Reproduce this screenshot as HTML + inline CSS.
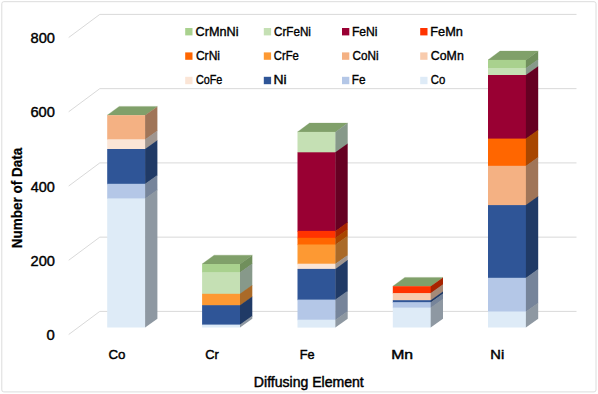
<!DOCTYPE html>
<html><head><meta charset="utf-8"><style>
html,body{margin:0;padding:0;background:#fff;}
svg{display:block;}
text{font-family:"Liberation Sans",sans-serif;fill:#000;}
.ay{font-size:13.8px;stroke:#000;stroke-width:0.4px;}
.ax{font-size:13.3px;stroke:#000;stroke-width:0.45px;}
.xt{font-size:14px;stroke:#000;stroke-width:0.45px;}
.yt{font-size:14.2px;font-weight:bold;stroke:#000;stroke-width:0.25px;}
.lg{font-size:11.9px;stroke:#000;stroke-width:0.35px;}
</style></head><body>
<svg width="598" height="394" viewBox="0 0 598 394">
<rect x="1.8" y="1.7" width="594.2" height="390.2" rx="2" fill="#fff" stroke="#DCDCDC" stroke-width="1"/>
<polyline points="68.7,334.50 99.8,311.40 576.5,311.40" fill="none" stroke="#D9D9D9" stroke-width="1"/>
<polyline points="68.7,260.25 99.8,237.15 576.5,237.15" fill="none" stroke="#D9D9D9" stroke-width="1"/>
<polyline points="68.7,186.00 99.8,162.90 576.5,162.90" fill="none" stroke="#D9D9D9" stroke-width="1"/>
<polyline points="68.7,111.75 99.8,88.65 576.5,88.65" fill="none" stroke="#D9D9D9" stroke-width="1"/>
<polyline points="68.7,37.50 99.8,14.40 576.5,14.40" fill="none" stroke="#D9D9D9" stroke-width="1"/>
<polygon points="107.2,115.2 119.20,106.40 157.40,106.40 145.40,115.2" fill="#80A06A" stroke="#80A06A" stroke-width="0.3"/>
<rect x="107.2" y="115.2" width="38.2" height="24.70" fill="#F4B183"/>
<polygon points="145.10,115.2 157.40,106.40 157.40,131.10 145.10,139.90" fill="#A07558"/>
<rect x="107.2" y="139.3" width="38.2" height="10.30" fill="#FBE5D6"/>
<polygon points="145.10,139.3 157.40,130.50 157.40,140.80 145.10,149.60" fill="#A09690"/>
<rect x="107.2" y="149.0" width="38.2" height="35.40" fill="#2F5597"/>
<polygon points="145.10,149.0 157.40,140.20 157.40,175.60 145.10,184.40" fill="#203A66"/>
<rect x="107.2" y="183.8" width="38.2" height="15.20" fill="#B4C7E7"/>
<polygon points="145.10,183.8 157.40,175.00 157.40,190.20 145.10,199.00" fill="#76849A"/>
<rect x="107.2" y="198.4" width="38.2" height="129.10" fill="#DEEBF7"/>
<polygon points="145.10,198.4 157.40,189.60 157.40,318.70 145.10,327.50" fill="#8E98A2"/>
<polygon points="202.1,264.0 214.10,255.20 252.30,255.20 240.30,264.0" fill="#80A06A" stroke="#80A06A" stroke-width="0.3"/>
<rect x="202.1" y="264.0" width="38.2" height="8.80" fill="#A9D18E"/>
<polygon points="240.00,264.0 252.30,255.20 252.30,264.00 240.00,272.80" fill="#708F5C"/>
<rect x="202.1" y="272.2" width="38.2" height="22.20" fill="#C5E0B4"/>
<polygon points="240.00,272.2 252.30,263.40 252.30,285.60 240.00,294.40" fill="#87998A"/>
<rect x="202.1" y="293.8" width="38.2" height="12.00" fill="#FD9933"/>
<polygon points="240.00,293.8 252.30,285.00 252.30,297.00 240.00,305.80" fill="#AA6A28"/>
<rect x="202.1" y="305.2" width="38.2" height="20.00" fill="#2F5597"/>
<polygon points="240.00,305.2 252.30,296.40 252.30,316.40 240.00,325.20" fill="#203A66"/>
<rect x="202.1" y="324.6" width="38.2" height="2.90" fill="#DEEBF7"/>
<polygon points="240.00,324.6 252.30,315.80 252.30,318.70 240.00,327.50" fill="#8E98A2"/>
<polygon points="297.5,131.9 309.50,123.10 347.70,123.10 335.70,131.9" fill="#80A06A" stroke="#80A06A" stroke-width="0.3"/>
<rect x="297.5" y="131.9" width="38.2" height="21.00" fill="#C5E0B4"/>
<polygon points="335.40,131.9 347.70,123.10 347.70,144.10 335.40,152.90" fill="#87998A"/>
<rect x="297.5" y="152.3" width="38.2" height="79.30" fill="#990033"/>
<polygon points="335.40,152.3 347.70,143.50 347.70,222.80 335.40,231.60" fill="#660022"/>
<rect x="297.5" y="230.9" width="38.2" height="7.50" fill="#FF3300"/>
<polygon points="335.40,230.9 347.70,222.10 347.70,229.60 335.40,238.40" fill="#A82400"/>
<rect x="297.5" y="237.8" width="38.2" height="7.30" fill="#FF6600"/>
<polygon points="335.40,237.8 347.70,229.00 347.70,236.30 335.40,245.10" fill="#A84600"/>
<rect x="297.5" y="244.5" width="38.2" height="19.80" fill="#FD9933"/>
<polygon points="335.40,244.5 347.70,235.70 347.70,255.50 335.40,264.30" fill="#AA6A28"/>
<rect x="297.5" y="263.7" width="38.2" height="5.80" fill="#FBE5D6"/>
<polygon points="335.40,263.7 347.70,254.90 347.70,260.70 335.40,269.50" fill="#A09690"/>
<rect x="297.5" y="268.9" width="38.2" height="31.30" fill="#2F5597"/>
<polygon points="335.40,268.9 347.70,260.10 347.70,291.40 335.40,300.20" fill="#203A66"/>
<rect x="297.5" y="299.6" width="38.2" height="20.70" fill="#B4C7E7"/>
<polygon points="335.40,299.6 347.70,290.80 347.70,311.50 335.40,320.30" fill="#76849A"/>
<rect x="297.5" y="319.7" width="38.2" height="7.90" fill="#DEEBF7"/>
<polygon points="335.40,319.7 347.70,310.90 347.70,318.80 335.40,327.60" fill="#8E98A2"/>
<polygon points="392.8,286.2 404.80,277.40 443.00,277.40 431.00,286.2" fill="#80A06A" stroke="#80A06A" stroke-width="0.3"/>
<rect x="392.8" y="286.2" width="38.2" height="7.50" fill="#FF3300"/>
<polygon points="430.70,286.2 443.00,277.40 443.00,284.90 430.70,293.70" fill="#A82400"/>
<rect x="392.8" y="293.1" width="38.2" height="7.70" fill="#F8CBAD"/>
<polygon points="430.70,293.1 443.00,284.30 443.00,292.00 430.70,300.80" fill="#A58A78"/>
<rect x="392.8" y="300.2" width="38.2" height="2.60" fill="#2F5597"/>
<polygon points="430.70,300.2 443.00,291.40 443.00,294.00 430.70,302.80" fill="#203A66"/>
<rect x="392.8" y="302.2" width="38.2" height="6.00" fill="#B4C7E7"/>
<polygon points="430.70,302.2 443.00,293.40 443.00,299.40 430.70,308.20" fill="#76849A"/>
<rect x="392.8" y="307.6" width="38.2" height="19.90" fill="#DEEBF7"/>
<polygon points="430.70,307.6 443.00,298.80 443.00,318.70 430.70,327.50" fill="#8E98A2"/>
<polygon points="488.0,59.9 500.00,51.10 538.20,51.10 526.20,59.9" fill="#80A06A" stroke="#80A06A" stroke-width="0.3"/>
<rect x="488.0" y="59.9" width="38.2" height="8.70" fill="#A9D18E"/>
<polygon points="525.90,59.9 538.20,51.10 538.20,59.80 525.90,68.60" fill="#708F5C"/>
<rect x="488.0" y="68.0" width="38.2" height="7.60" fill="#C5E0B4"/>
<polygon points="525.90,68.0 538.20,59.20 538.20,66.80 525.90,75.60" fill="#87998A"/>
<rect x="488.0" y="75.0" width="38.2" height="64.20" fill="#990033"/>
<polygon points="525.90,75.0 538.20,66.20 538.20,130.40 525.90,139.20" fill="#660022"/>
<rect x="488.0" y="138.6" width="38.2" height="27.80" fill="#FF6600"/>
<polygon points="525.90,138.6 538.20,129.80 538.20,157.60 525.90,166.40" fill="#A84600"/>
<rect x="488.0" y="165.8" width="38.2" height="39.90" fill="#F4B183"/>
<polygon points="525.90,165.8 538.20,157.00 538.20,196.90 525.90,205.70" fill="#A07558"/>
<rect x="488.0" y="205.1" width="38.2" height="73.30" fill="#2F5597"/>
<polygon points="525.90,205.1 538.20,196.30 538.20,269.60 525.90,278.40" fill="#203A66"/>
<rect x="488.0" y="277.8" width="38.2" height="34.30" fill="#B4C7E7"/>
<polygon points="525.90,277.8 538.20,269.00 538.20,303.30 525.90,312.10" fill="#76849A"/>
<rect x="488.0" y="311.5" width="38.2" height="16.00" fill="#DEEBF7"/>
<polygon points="525.90,311.5 538.20,302.70 538.20,318.70 525.90,327.50" fill="#8E98A2"/>
<text transform="translate(46.48,340.2) scale(1.0779,1)" class="ay">0</text>
<text transform="translate(30.49,265.95) scale(1.0608,1)" class="ay">200</text>
<text transform="translate(30.76,191.7) scale(1.0491,1)" class="ay">400</text>
<text transform="translate(30.43,117.45) scale(1.0634,1)" class="ay">600</text>
<text transform="translate(30.51,43.2) scale(1.0601,1)" class="ay">800</text>
<text transform="translate(108.49,359.0) scale(0.9991,1)" class="ax">Co</text>
<text transform="translate(205.21,359.0) scale(0.9716,1)" class="ax">Cr</text>
<text transform="translate(299.85,359.0) scale(0.9563,1)" class="ax">Fe</text>
<text transform="translate(391.19,359.0) scale(1.1858,1)" class="ax">Mn</text>
<text transform="translate(490.29,359.0) scale(1.1067,1)" class="ax">Ni</text>
<text transform="translate(253.86,387.0) scale(1.0057,1)" class="xt">Diffusing Element</text>
<text transform="translate(195.58,35.6) scale(1.0662,1)" class="lg">CrMnNi</text>
<text transform="translate(274.02,35.6) scale(0.9813,1)" class="lg">CrFeNi</text>
<text transform="translate(351.91,35.6) scale(1.0227,1)" class="lg">FeNi</text>
<text transform="translate(430.26,35.6) scale(1.0724,1)" class="lg">FeMn</text>
<text transform="translate(195.91,60.0) scale(1.0143,1)" class="lg">CrNi</text>
<text transform="translate(273.84,60.0) scale(0.9485,1)" class="lg">CrFe</text>
<text transform="translate(352.42,60.0) scale(0.9882,1)" class="lg">CoNi</text>
<text transform="translate(430.79,60.0) scale(1.0401,1)" class="lg">CoMn</text>
<text transform="translate(195.96,84.4) scale(0.9086,1)" class="lg">CoFe</text>
<text transform="translate(273.45,84.4) scale(1.1715,1)" class="lg">Ni</text>
<text transform="translate(351.85,84.4) scale(0.9894,1)" class="lg">Fe</text>
<text transform="translate(430.84,84.4) scale(0.9538,1)" class="lg">Co</text>
<text transform="translate(21.9,197.9) rotate(-90)" text-anchor="middle" textLength="100.5" lengthAdjust="spacingAndGlyphs" class="yt">Number of Data</text>
<rect x="185.2" y="28.0" width="7.3" height="7.4" fill="#A9D18E"/>
<rect x="263.8" y="28.0" width="7.3" height="7.4" fill="#C5E0B4"/>
<rect x="342.0" y="28.0" width="7.3" height="7.4" fill="#990033"/>
<rect x="420.2" y="28.0" width="7.3" height="7.4" fill="#FF3300"/>
<rect x="185.2" y="52.4" width="7.3" height="7.4" fill="#FF6600"/>
<rect x="263.8" y="52.4" width="7.3" height="7.4" fill="#FD9933"/>
<rect x="342.0" y="52.4" width="7.3" height="7.4" fill="#F4B183"/>
<rect x="420.2" y="52.4" width="7.3" height="7.4" fill="#F8CBAD"/>
<rect x="185.2" y="76.8" width="7.3" height="7.4" fill="#FBE5D6"/>
<rect x="263.8" y="76.8" width="7.3" height="7.4" fill="#2F5597"/>
<rect x="342.0" y="76.8" width="7.3" height="7.4" fill="#B4C7E7"/>
<rect x="420.2" y="76.8" width="7.3" height="7.4" fill="#DEEBF7"/>
</svg></body></html>
